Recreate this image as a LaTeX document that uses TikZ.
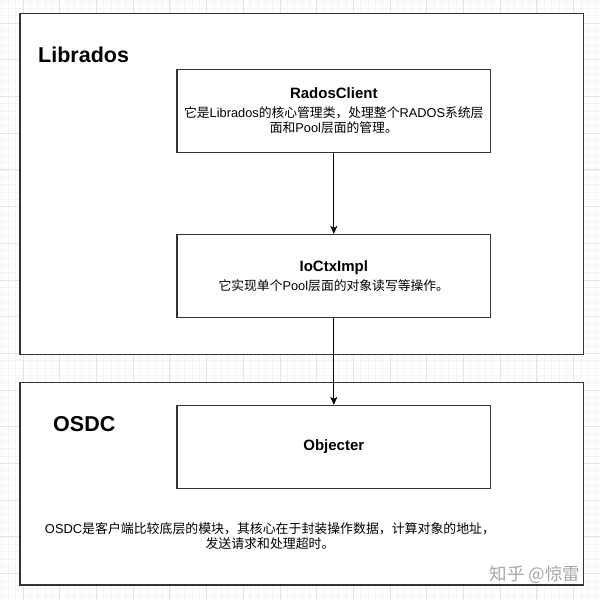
\documentclass[tikz,border=0pt]{standalone}
\usepackage{fontspec}
\setmainfont{Liberation Sans}
\newfontfamily\cjk{Noto Sans CJK SC}
\usepackage{tikz}
\usetikzlibrary{arrows.meta,positioning}
\newcommand{\zh}[1]{{\cjk #1}}
\definecolor{gridminor}{HTML}{F4F4F4}
\definecolor{gridmajor}{HTML}{E4E4E4}
\definecolor{edgegray}{HTML}{333333}
\tikzset{
  layerbox/.style={draw=edgegray,line width=1.3pt,fill=white,inner sep=0pt},
  compbox/.style={draw=edgegray,line width=1.2pt,fill=white,minimum width=313.7pt,minimum height=83pt,inner sep=0pt,align=center,font=\fontsize{12.8}{15.3}\selectfont},
  layertitle/.style={anchor=west,inner sep=0pt,font=\bfseries\fontsize{21.5}{24}\selectfont}
}
\newcommand{\btitle}[1]{{\bfseries\fontsize{15}{18}\selectfont #1}}
\begin{document}
\begin{tikzpicture}[x=1pt,y=-1pt]
\useasboundingbox (0,0) rectangle (600,600);
\fill[white] (0,0) rectangle (600,600);
\foreach \i in {-4,...,80} {
  \draw[gridminor,line width=0.6pt] ({23+\i*7.34},0) -- ({23+\i*7.34},600);
  \draw[gridminor,line width=0.6pt] (0,{23+\i*7.34}) -- (600,{23+\i*7.34});
}
\foreach \i in {-1,...,16} {
  \draw[gridmajor,line width=0.8pt] ({23+\i*36.7},0) -- ({23+\i*36.7},600);
  \draw[gridmajor,line width=0.8pt] (0,{23+\i*36.7}) -- (600,{23+\i*36.7});
}
\node[layerbox,minimum width=563.3pt,minimum height=341pt] (librados) at (301.7,183.8) {};
\node[layerbox,minimum width=563.3pt,minimum height=202.7pt] (osdc) at (301.7,483.7) {};
\node[layertitle] (libtitle) at (38,55) {Librados};
\node[layertitle] (osdctitle) at (53,424) {OSDC};
\node[compbox] (rc) at (333.8,111) {\btitle{RadosClient}\\[3.5pt]
\zh{它是}Librados\zh{的核心管理类，处理整个}RADOS\zh{系统层}\\
\zh{面和}Pool\zh{层面的管理。}};
\node[compbox] (io) at (333.8,276) {\btitle{IoCtxImpl}\\[3pt]
\zh{它实现单个}Pool\zh{层面的对象读写等操作。}};
\node[compbox] (ob) at (333.8,447) {\btitle{Objecter}};
\node[align=center,inner sep=0pt,font=\fontsize{12.9}{14.5}\selectfont] (osdcnote) at (270,536)
{OSDC\zh{是客户端比较底层的模块，其核心在于封装操作数据，计算对象的地址，}\\
\zh{发送请求和处理超时。}};
\node[inner sep=0pt,text=black!35,font=\fontsize{17.5}{20}\selectfont] (mark) at (535,575) {\zh{知乎 @惊雷}};
\path[-{Stealth[length=8pt,width=7pt,inset=2pt]},line width=0.9pt]
(rc) edge (io)
(io) edge (ob);
\end{tikzpicture}
\end{document}
